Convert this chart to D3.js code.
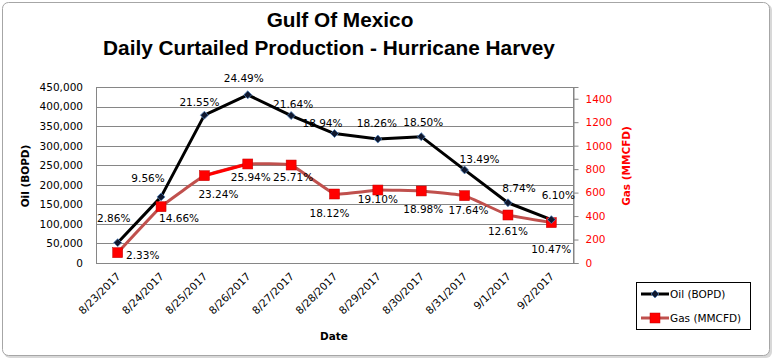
<!DOCTYPE html>
<html lang="en">
<head>
<meta charset="UTF-8">
<title>Gulf Of Mexico - Daily Curtailed Production</title>
<script src="https://cdn.jsdelivr.net/npm/d3@7"></script>
<style>
  body { margin: 0; background: #fff; }
  svg { display: block; }
</style>
</head>
<body>
<script>
// data
const dates = ["8/23/2017", "8/24/2017", "8/25/2017", "8/26/2017", "8/27/2017", "8/28/2017",
               "8/29/2017", "8/30/2017", "8/31/2017", "9/1/2017", "9/2/2017"]
const oilBopd = [52000, 169000, 378000, 430000, 377000, 331000, 317000, 323000, 238000, 154000, 111000]
const gasMmcfd = [88, 480, 744, 844, 835, 588, 622, 614, 574, 409, 344]
const oilPct = ["2.86%", "9.56%", "21.55%", "24.49%", "21.64%", "18.94%", "18.26%", "18.50%", "13.49%", "8.74%", "6.10%"]
const gasPct = ["2.33%", "14.66%", "23.24%", "25.94%", "25.71%", "18.12%", "19.10%", "18.98%", "17.64%", "12.61%", "10.47%"]
const oilTicks = [0, 50000, 100000, 150000, 200000, 250000, 300000, 350000, 400000, 450000]
const gasTicks = [0, 200, 400, 600, 800, 1000, 1200, 1400]

// label placement (like excel's auto placement), dx/dy from the point
const oilLabelOffset = [[-4,-25],[-13,-19],[-5,-13],[-4,-17],[2,-12],[-12,-11],[-1,-16],[2,-15],[15,-11],[11,-15],[7,-25]]
const gasLabelOffset = [[25,2],[18,11],[14,18],[3,13],[2,12],[-5,19],[0,9],[2,18],[4,14],[0,16],[0,26]]

const width = 775, height = 363
const plot = {left: 96, right: 573, top: 87, bottom: 263}
const font = "'DejaVu Sans', Verdana, sans-serif"
const titleFont = "'Liberation Sans', Arial, sans-serif"

const svg = d3.select("body").append("svg").attr("width", width).attr("height", height)

// chart frame
svg.append("rect").attr("x", 4).attr("y", 4).attr("width", 768).attr("height", 354)
    .attr("rx", 6).attr("fill", "#d8d8d8")
svg.append("rect").attr("x", 2.5).attr("y", 2.5).attr("width", 767).attr("height", 353)
    .attr("rx", 6).attr("fill", "#fff").attr("stroke", "#a6a6a6")

const x = d3.scalePoint().domain(dates).range([plot.left, plot.right]).padding(0.5)
const yOil = d3.scaleLinear().domain([0, 450000]).range([plot.bottom, plot.top])
const yGas = d3.scaleLinear().domain([0, 1500]).range([plot.bottom, plot.top])

// gridlines
svg.append("g").selectAll("line").data(oilTicks).enter().append("line")
    .attr("x1", plot.left).attr("x2", plot.right)
    .attr("y1", d => Math.round(yOil(d)) + 0.5).attr("y2", d => Math.round(yOil(d)) + 0.5)
    .attr("stroke", "#868686")
svg.append("rect").attr("x", plot.left + 0.5).attr("y", plot.top + 0.5)
    .attr("width", plot.right - plot.left).attr("height", plot.bottom - plot.top)
    .attr("fill", "none").attr("stroke", "#868686")

// left axis
const leftAxis = d3.axisLeft(yOil).tickValues(oilTicks).tickSize(0).tickPadding(13)
    .tickFormat(d3.format(","))
svg.append("g").attr("transform", `translate(${plot.left},0)`).call(leftAxis)
    .call(g => g.select(".domain").remove())
    .call(g => g.selectAll("text").attr("font-family", font).attr("font-size", 10.5).attr("fill", "#000"))

// right axis
const rightAxis = d3.axisRight(yGas).tickValues(gasTicks).tickSize(5).tickPadding(7)
    .tickFormat(d3.format("d"))
svg.append("g").attr("transform", `translate(${plot.right + 0.5},0)`).call(rightAxis)
    .call(g => g.select(".domain").attr("stroke", "#868686"))
    .call(g => g.selectAll(".tick line").attr("stroke", "#868686"))
    .call(g => g.selectAll("text").attr("font-family", font).attr("font-size", 10.5).attr("fill", "#ff0000"))

// bottom axis, rotated labels
const bottomAxis = d3.axisBottom(x).tickSize(0).tickPadding(0)
svg.append("g").attr("transform", `translate(0,${plot.bottom})`).call(bottomAxis)
    .call(g => g.select(".domain").remove())
    .call(g => g.selectAll("text")
        .attr("font-family", font).attr("font-size", 10.5).attr("fill", "#000")
        .attr("text-anchor", "end").attr("dy", 0).attr("y", 0)
        .attr("transform", "translate(3,14) rotate(-45)"))

// titles
svg.append("text").attr("x", 340).attr("y", 27).attr("text-anchor", "middle")
    .attr("font-family", titleFont).attr("font-weight", "bold").attr("font-size", 20.8)
    .text("Gulf Of Mexico")
svg.append("text").attr("x", 329).attr("y", 55).attr("text-anchor", "middle")
    .attr("font-family", titleFont).attr("font-weight", "bold").attr("font-size", 20.8)
    .text("Daily Curtailed Production - Hurricane Harvey")
svg.append("text").attr("x", 334).attr("y", 340).attr("text-anchor", "middle")
    .attr("font-family", font).attr("font-weight", "bold").attr("font-size", 10.5)
    .text("Date")
svg.append("text").attr("transform", "translate(29,176) rotate(-90)").attr("text-anchor", "middle")
    .attr("font-family", font).attr("font-weight", "bold").attr("font-size", 10.5)
    .text("Oil (BOPD)")
svg.append("text").attr("transform", "translate(630,166) rotate(-90)").attr("text-anchor", "middle")
    .attr("font-family", font).attr("font-weight", "bold").attr("font-size", 10.5).attr("fill", "#ff0000")
    .text("Gas (MMCFD)")

// gas line, lightly smoothed like excel
const gasLine = d3.line().x((d, i) => x(dates[i])).y(d => yGas(d)).curve(d3.curveCardinal.tension(0.75))
svg.append("path").datum(gasMmcfd).attr("d", gasLine)
    .attr("fill", "none").attr("stroke", "#c0504d").attr("stroke-width", 3).attr("stroke-linejoin", "round")
svg.append("path").datum(gasMmcfd.slice(2, 4))
    .attr("d", d3.line().x((d, i) => x(dates[i + 2])).y(d => yGas(d)))
    .attr("fill", "none").attr("stroke", "#ff0000").attr("stroke-width", 3)

// oil line
const oilLine = d3.line().x((d, i) => x(dates[i])).y(d => yOil(d))
svg.append("path").datum(oilBopd).attr("d", oilLine)
    .attr("fill", "none").attr("stroke", "#000").attr("stroke-width", 3).attr("stroke-linejoin", "round")

// markers
svg.append("g").selectAll("rect").data(gasMmcfd).enter().append("rect")
    .attr("x", (d, i) => x(dates[i]) - 5).attr("y", d => yGas(d) - 5)
    .attr("width", 10).attr("height", 10)
    .attr("fill", "#ff0000").attr("stroke", "#c00000").attr("stroke-width", 0.5)
const diamond = d3.symbol().type(d3.symbolDiamond2).size(40)
svg.append("g").selectAll("path").data(oilBopd).enter().append("path")
    .attr("d", diamond)
    .attr("transform", (d, i) => `translate(${x(dates[i])},${yOil(d)})`)
    .attr("fill", "#10182e").attr("stroke", "#4f81bd").attr("stroke-width", 0.8)

// data labels
svg.append("g").selectAll("text").data(oilPct).enter().append("text")
    .attr("x", (d, i) => x(dates[i]) + oilLabelOffset[i][0])
    .attr("y", (d, i) => yOil(oilBopd[i]) + oilLabelOffset[i][1])
    .attr("text-anchor", "middle").attr("dominant-baseline", "central")
    .attr("font-family", font).attr("font-size", 10.5).attr("fill", "#000")
    .text(d => d)
svg.append("g").selectAll("text").data(gasPct).enter().append("text")
    .attr("x", (d, i) => x(dates[i]) + gasLabelOffset[i][0])
    .attr("y", (d, i) => yGas(gasMmcfd[i]) + gasLabelOffset[i][1])
    .attr("text-anchor", "middle").attr("dominant-baseline", "central")
    .attr("font-family", font).attr("font-size", 10.5).attr("fill", "#000")
    .text(d => d)

// legend
const legend = svg.append("g").attr("transform", "translate(636,282)")
legend.append("rect").attr("x", 0.5).attr("y", 0.5).attr("width", 114).attr("height", 47)
    .attr("fill", "#fff").attr("stroke", "#000")
legend.append("line").attr("x1", 5).attr("x2", 33).attr("y1", 12).attr("y2", 12)
    .attr("stroke", "#000").attr("stroke-width", 3)
legend.append("path").attr("d", diamond).attr("transform", "translate(19,12)")
    .attr("fill", "#10182e").attr("stroke", "#4f81bd").attr("stroke-width", 0.8)
legend.append("text").attr("x", 34).attr("y", 12).attr("dominant-baseline", "central")
    .attr("font-family", font).attr("font-size", 10.5).text("Oil (BOPD)")
legend.append("line").attr("x1", 5).attr("x2", 33).attr("y1", 36).attr("y2", 36)
    .attr("stroke", "#c0504d").attr("stroke-width", 3)
legend.append("rect").attr("x", 14).attr("y", 31).attr("width", 10).attr("height", 10)
    .attr("fill", "#ff0000").attr("stroke", "#c00000").attr("stroke-width", 0.5)
legend.append("text").attr("x", 34).attr("y", 36).attr("dominant-baseline", "central")
    .attr("font-family", font).attr("font-size", 10.5).text("Gas (MMCFD)")
</script>
</body>
</html>
